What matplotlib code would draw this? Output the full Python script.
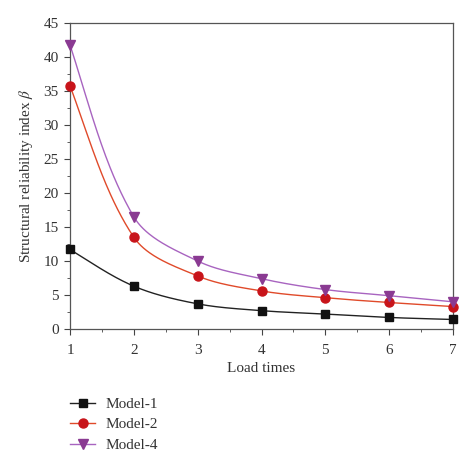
import matplotlib
matplotlib.use("Agg")
import matplotlib.pyplot as plt
import numpy as np
from matplotlib.ticker import MultipleLocator

load_times = [1, 2, 3, 4, 5, 6, 7]
model_1 = [11.7, 6.3, 3.7, 2.7, 2.2, 1.7, 1.4]
model_2 = [35.8, 13.5, 7.8, 5.6, 4.6, 3.9, 3.3]
model_4 = [41.8, 16.5, 10.0, 7.4, 5.8, 4.9, 4.0]
labels = ["Model-1", "Model-2", "Model-4"]


def smooth_line(ax, x, y, n=60):
    # Catmull-Rom curve in screen space, tangents scaled by chord length
    P = ax.transData.transform(np.column_stack([x, y]))
    d = np.hypot(*np.diff(P, axis=0).T)
    T = np.zeros_like(P)
    T[1:-1] = (P[2:] - P[:-2]) / 2
    t = np.linspace(0, 1, n)[:, None]
    h00 = 2 * t**3 - 3 * t**2 + 1
    h10 = t**3 - 2 * t**2 + t
    h01 = -2 * t**3 + 3 * t**2
    h11 = t**3 - t**2
    segs = []
    last = len(P) - 2
    for i in range(len(P) - 1):
        a = 1.0 if i == 0 else 2 * d[i] / (d[i - 1] + d[i])
        b = 1.0 if i == last else 2 * d[i] / (d[i] + d[i + 1])
        t1 = T[i] * a
        t2 = T[i + 1] * b
        # end tangents: halfway between chord and natural end
        if i == 0:
            c = P[1] - P[0]
            t1 = 0.5 * c + 0.5 * (1.5 * c - 0.5 * t2)
        if i == last:
            c = P[-1] - P[-2]
            t2 = 0.5 * c + 0.5 * (1.5 * c - 0.5 * t1)
        segs.append(h00 * P[i] + h10 * t1 + h01 * P[i + 1] + h11 * t2)
    pts = ax.transData.inverted().transform(np.vstack(segs))
    return pts[:, 0], pts[:, 1]


plt.rcParams.update({
    "font.family": ["Liberation Serif", "DejaVu Serif"],
    "mathtext.fontset": "stix",
    "font.size": 11,
    "axes.linewidth": 0.9,
})

fig = plt.figure(figsize=(4.74, 4.67), dpi=100)
ax = fig.add_axes([0.1477, 0.2955, 0.808, 0.655])
ax.set_xlim(1, 7)
ax.set_ylim(0, 45)

styles = [
    (model_1, "#222222", "#111111", "s", 5.5),
    (model_2, "#e04a2a", "#c8141a", "o", 6.5),
    (model_4, "#a864c0", "#8a3a92", "v", 7),
]
handles = []
for (vals, lc, mc, mk, ms), lab in zip(styles, labels):
    xs, ys = smooth_line(ax, load_times, vals)
    ax.plot(xs, ys, color=lc, lw=1.0, clip_on=False, zorder=2)
    ax.plot(load_times, vals, ls="none", marker=mk, ms=ms, color=mc,
            clip_on=False, zorder=3)
    h, = ax.plot([], [], color=lc, lw=1.0, marker=mk, ms=ms,
                 markerfacecolor=mc, markeredgecolor=mc)
    handles.append(h)

ax.xaxis.set_major_locator(MultipleLocator(1))
ax.xaxis.set_minor_locator(MultipleLocator(0.5))
ax.yaxis.set_major_locator(MultipleLocator(5))
ax.yaxis.set_minor_locator(MultipleLocator(2.5))
ax.tick_params(which="both", direction="out", colors="#444444", labelcolor="#333333")
ax.tick_params(which="major", length=4.5)
ax.tick_params(axis="x", which="major", pad=6)
ax.tick_params(which="minor", length=2.5)
for s in ax.spines.values():
    s.set_color("#555555")
ax.set_xlabel("Load times", color="#333333", labelpad=4)
ax.set_ylabel(r"Structural reliability index $\beta$", color="#333333", labelpad=6)

fig.legend(handles=handles, labels=labels, loc="upper left",
           bbox_to_anchor=(0.119, 0.179), frameon=False, handlelength=1.65,
           handletextpad=0.65, labelspacing=0.45, fontsize=11,
           labelcolor="#333333")

fig.savefig("out.png", dpi=100)
